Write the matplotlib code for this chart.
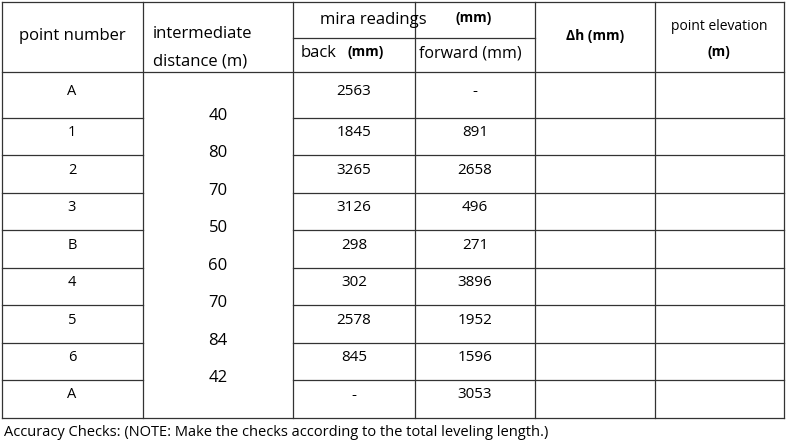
import matplotlib.pyplot as plt

points = ["A", "1", "2", "3", "B", "4", "5", "6", "A"]
distances = ["40", "80", "70", "50", "60", "70", "84", "42"]
back = ["2563", "1845", "3265", "3126", "298", "302", "2578", "845", "-"]
forward = ["-", "891", "2658", "496", "271", "3896", "1952", "1596", "3053"]

W, H = 794, 443
fig = plt.figure(figsize=(W / 100, H / 100), dpi=100)
ax = fig.add_axes([0, 0, 1, 1])
ax.set_xlim(0, W)
ax.set_ylim(H, 0)
ax.axis("off")

cols = [2, 143, 293, 415, 535, 655, 784]
row_lines = [72, 118, 155, 193, 230, 268, 305, 343, 380, 418]
lc = "#333333"
lw = 0.9

# outer and column lines
ax.plot([cols[0], cols[-1]], [2, 2], color=lc, lw=lw)
for x in cols:
    ax.plot([x, x], [2, 418], color=lc, lw=lw)
ax.plot([cols[2], cols[4]], [38, 38], color=lc, lw=lw)
for i, y in enumerate(row_lines):
    if i in (0, len(row_lines) - 1):
        ax.plot([cols[0], cols[-1]], [y, y], color=lc, lw=lw)
    else:
        ax.plot([cols[0], cols[1]], [y, y], color=lc, lw=lw)
        ax.plot([cols[2], cols[-1]], [y, y], color=lc, lw=lw)

f = "Open Sans"
ax.text(72, 36, "point number", ha="center", va="center", fontsize=12, family=f)
ax.text(153, 34, "intermediate", ha="left", va="center", fontsize=12, family=f)
ax.text(153, 61, "distance (m)", ha="left", va="center", fontsize=12, family=f)
ax.text(320, 20, "mira readings", ha="left", va="center", fontsize=12, family=f)
ax.text(455, 18, "(mm)", ha="left", va="center", fontsize=10, weight="bold", family=f)
ax.text(301, 53, "back", ha="left", va="center", fontsize=12, family=f)
ax.text(348, 52, "(mm)", ha="left", va="center", fontsize=10, weight="bold", family=f)
ax.text(419, 53, "forward (mm)", ha="left", va="center", fontsize=11.5, family=f)
ax.text(595, 36, "Δh (mm)", ha="center", va="center", fontsize=10, weight="bold", family=f)
ax.text(719, 26, "point elevation", ha="center", va="center", fontsize=10, family=f)
ax.text(719, 52, "(m)", ha="center", va="center", fontsize=10, weight="bold", family=f)

for i in range(len(points)):
    yc = (row_lines[i] + row_lines[i + 1]) / 2 - 4
    ax.text(72, yc, points[i], ha="center", va="center", fontsize=10.5, family=f)
    ax.text(354, yc, back[i], ha="center", va="center", fontsize=11, family=f)
    ax.text(475, yc, forward[i], ha="center", va="center", fontsize=11, family=f)

for i, d in enumerate(distances):
    ax.text(218, row_lines[i + 1] - 2, d, ha="center", va="center", fontsize=12, family=f)

ax.text(4, 432, "Accuracy Checks: (NOTE: Make the checks according to the total leveling length.)",
        ha="left", va="center", fontsize=10.5, family=f)

fig.savefig("out.png", dpi=100, facecolor="white")
